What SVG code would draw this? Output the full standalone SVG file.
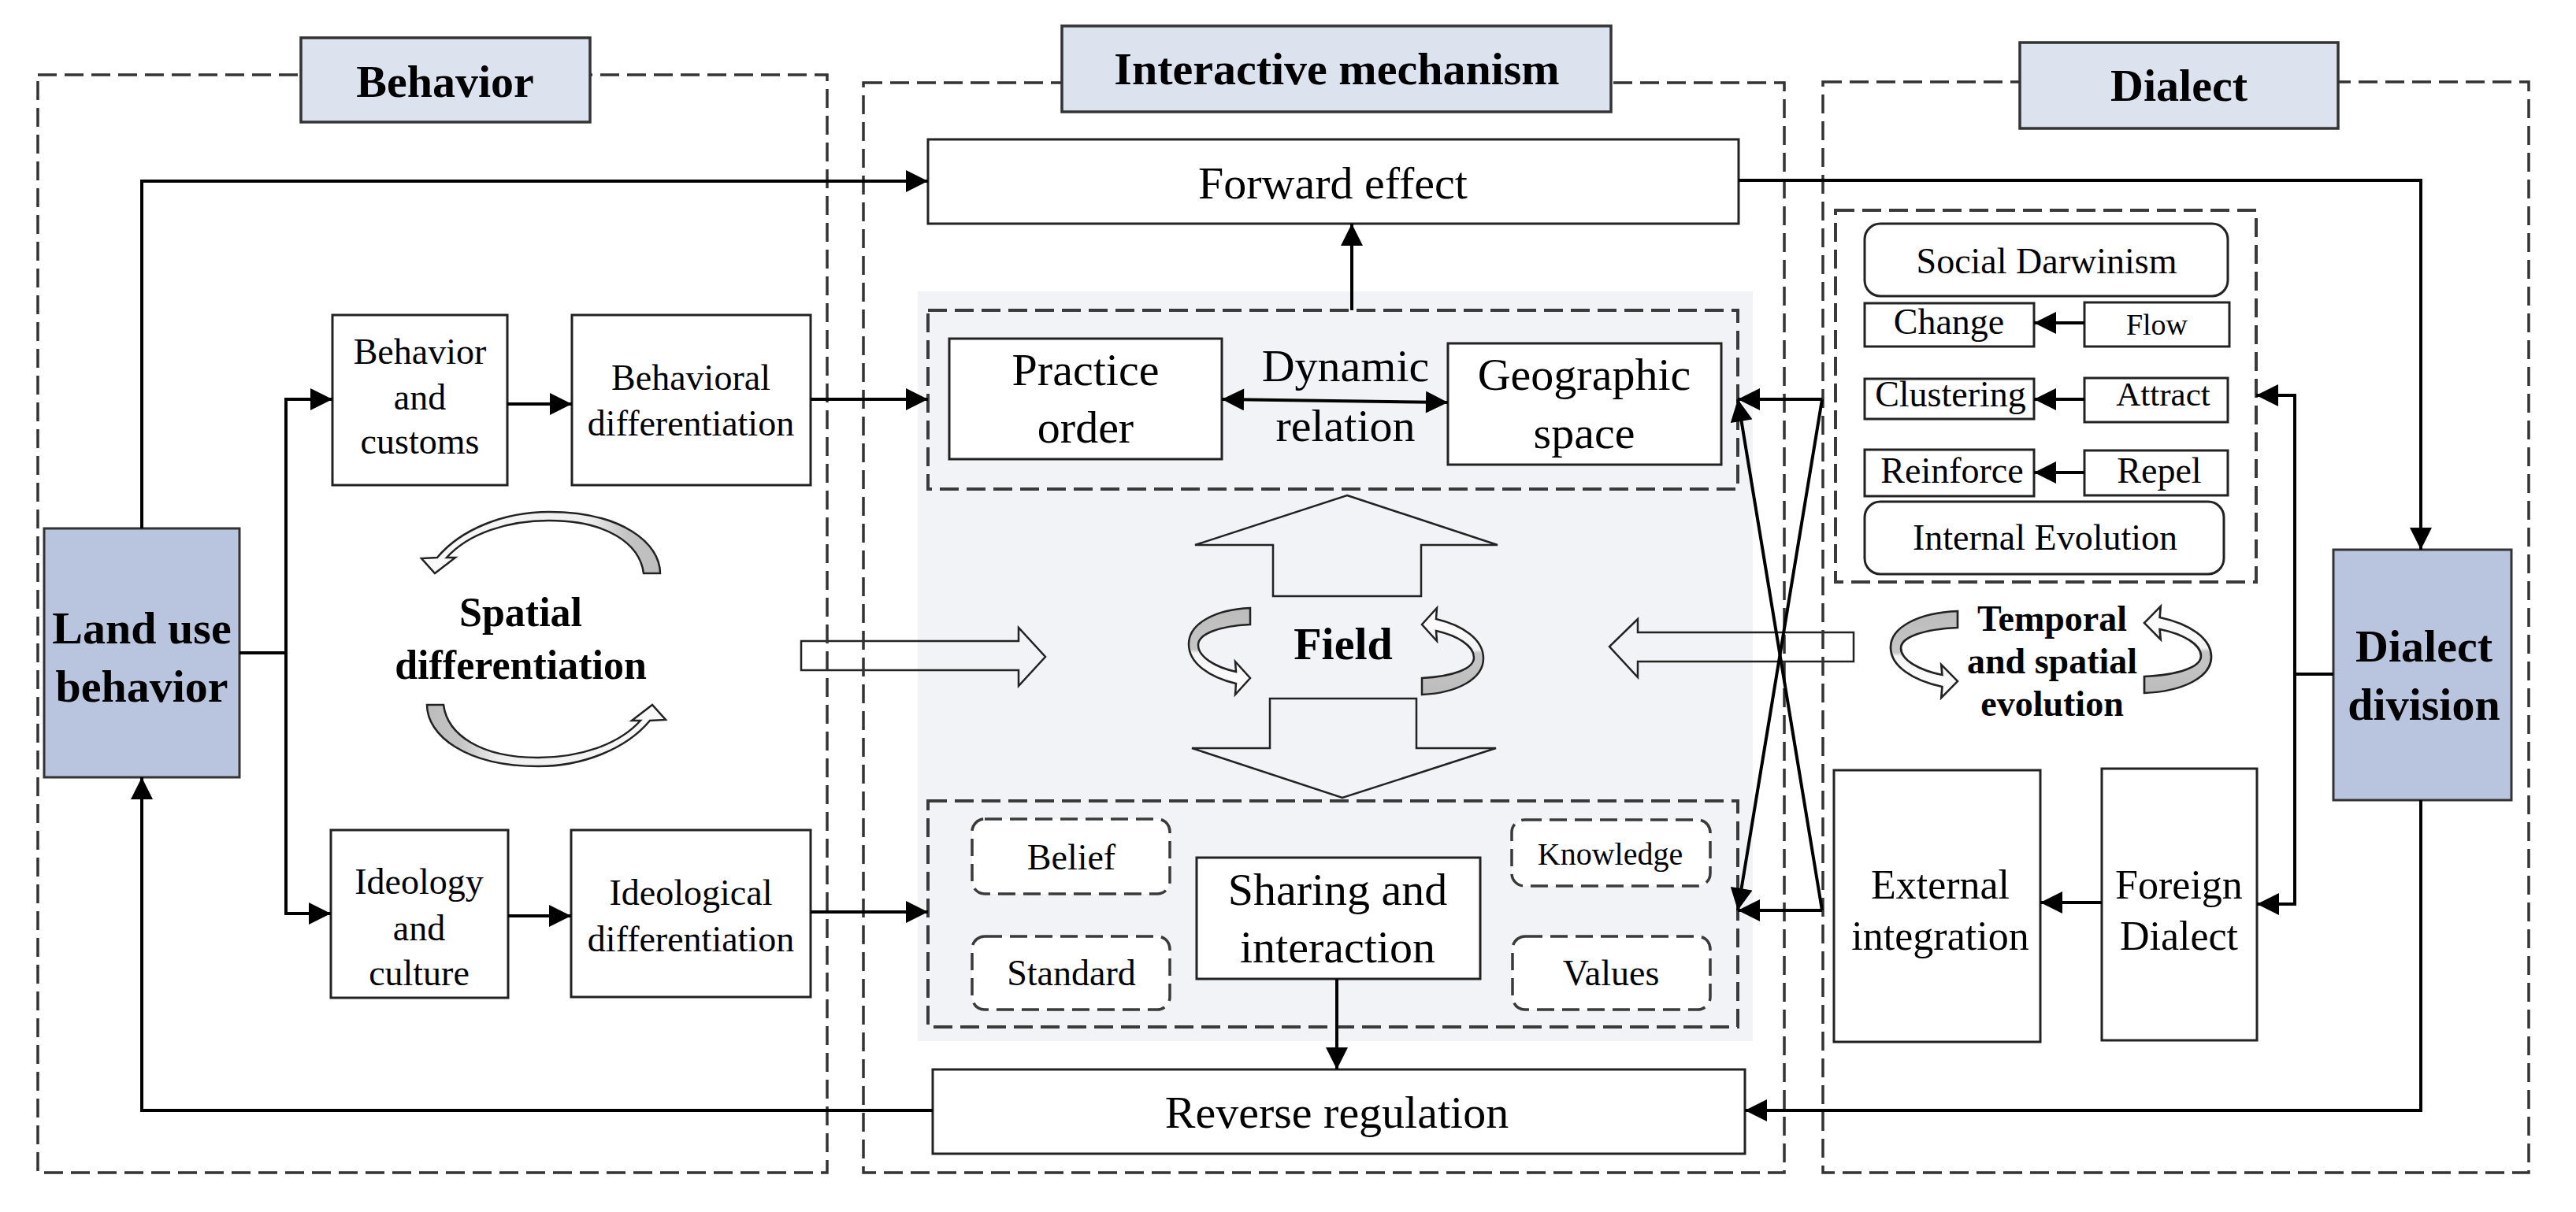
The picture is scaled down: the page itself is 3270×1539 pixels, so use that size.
<svg xmlns="http://www.w3.org/2000/svg" width="3270" height="1539" viewBox="0 0 3270 1539">
<defs>
<marker id="ah" viewBox="0 0 10 10" refX="10" refY="5" markerWidth="30" markerHeight="28" markerUnits="userSpaceOnUse" orient="auto-start-reverse"><path d="M0,0 L10,5 L0,10 Z" fill="#000"/></marker>
<linearGradient id="gv" x1="0" y1="0" x2="0" y2="1"><stop offset="0" stop-color="#bcbcbc"/><stop offset="0.48" stop-color="#c6c6c6"/><stop offset="0.52" stop-color="#f4f4f4"/><stop offset="1" stop-color="#ffffff"/></linearGradient>
<linearGradient id="gh" x1="0" y1="0" x2="1" y2="0"><stop offset="0" stop-color="#fafafa"/><stop offset="0.7" stop-color="#eeeeee"/><stop offset="0.86" stop-color="#c4c4c4"/><stop offset="1" stop-color="#bcbcbc"/></linearGradient>
<path id="carrow" fill="url(#gv)" stroke="#222" stroke-width="2.5" d="M0 0 C-45 2 -78 20 -78 46 C-78 70 -52 88 -18 96 L-19 110 L0 89 L-19 68 L-18 81 C-45 75 -66 62 -66 47 C-66 33 -40 23 0 21 Z"/>
<path id="sarrow" fill="url(#gh)" stroke="#222" stroke-width="2.5" d="M838 728 C838 690 790 650 697 650 C640 650 585 672 555 708 L535 709 L552 728 L578 708 L567 708 C595 677 645 661 697 661 C770 661 812 690 817 728 Z"/>
</defs>
<style>
.t{font-family:"Liberation Serif","Times New Roman",serif;text-anchor:middle;fill:#000}
.b{font-weight:bold}
.frame{fill:none;stroke:#333;stroke-width:3.5;stroke-dasharray:24 10}
.dbox{fill:none;stroke:#3a3a3a;stroke-width:4;stroke-dasharray:24 10}
.rdash{fill:#fff;stroke:#3a3a3a;stroke-width:3.5;stroke-dasharray:22 10}
.box{fill:#fff;stroke:#222;stroke-width:3}
.title{fill:#dde2ef;stroke:#333;stroke-width:3.5}
.key{fill:#b9c5de;stroke:#333;stroke-width:3}
.con{fill:none;stroke:#000;stroke-width:4}
.hollow{fill:none;stroke:#222;stroke-width:2.5}
</style>
<rect width="3270" height="1539" fill="#fff"/>

<rect x="1165" y="370" width="1060" height="952" fill="#f2f3f6"/>

<g id="hollow-arrows">
<path class="hollow" d="M1017 814 L1293 814 L1293 797 L1327 834 L1293 871 L1293 851 L1017 851 Z"/>
<path class="hollow" d="M2353 803 L2079 803 L2079 786 L2043 821 L2079 860 L2079 840 L2353 840 Z"/>
<path class="hollow" d="M1710 629 L1901 692 L1804 692 L1804 757 L1616 757 L1616 692 L1517 692 Z"/>
<path class="hollow" d="M1612 887 L1798 887 L1798 950 L1899 950 L1704 1013 L1513 950 L1612 950 Z"/>
</g>

<g id="frames">
<rect class="frame" x="48" y="95" width="1002" height="1394"/>
<rect class="frame" x="1096" y="105" width="1169" height="1384"/>
<rect class="frame" x="2314" y="104" width="896" height="1385"/>
</g>

<g id="title-behavior"><rect class="title" x="382" y="48" width="367" height="107"/><text class="t b" x="565" y="123" font-size="58">Behavior</text></g>
<g id="title-mechanism"><rect class="title" x="1348" y="33" width="697" height="109"/><text class="t b" x="1697" y="107" font-size="58">Interactive mechanism</text></g>
<g id="title-dialect"><rect class="title" x="2564" y="54" width="404" height="109"/><text class="t b" x="2766" y="128" font-size="58">Dialect</text></g>

<g id="land-use"><rect class="key" x="56" y="671" width="248" height="316"/><text class="t b" x="180" y="817" font-size="58">Land use</text><text class="t b" x="180" y="891" font-size="58">behavior</text></g>
<g id="behavior-customs"><rect class="box" x="422" y="400" width="222" height="216"/><text class="t" x="533" y="462" font-size="46">Behavior</text><text class="t" x="533" y="520" font-size="46">and</text><text class="t" x="533" y="576" font-size="46">customs</text></g>
<g id="behavioral-diff"><rect class="box" x="726" y="400" width="303" height="216"/><text class="t" x="877" y="495" font-size="46">Behavioral</text><text class="t" x="877" y="553" font-size="46">differentiation</text></g>
<g id="ideology-culture"><rect class="box" x="420" y="1054" width="225" height="213"/><text class="t" x="532" y="1135" font-size="46">Ideology</text><text class="t" x="532" y="1194" font-size="46">and</text><text class="t" x="532" y="1251" font-size="46">culture</text></g>
<g id="ideological-diff"><rect class="box" x="725" y="1054" width="304" height="212"/><text class="t" x="877" y="1149" font-size="46">Ideological</text><text class="t" x="877" y="1208" font-size="46">differentiation</text></g>
<g id="spatial-diff">
<use href="#sarrow"/>
<use href="#sarrow" transform="rotate(180 690 811.5)"/>
<text class="t b" x="661" y="795" font-size="52">Spatial</text><text class="t b" x="661" y="862" font-size="52">differentiation</text>
</g>

<g id="forward-effect"><rect class="box" x="1178" y="177" width="1029" height="107"/><text class="t" x="1692" y="252" font-size="58">Forward effect</text></g>
<g id="upper-group"><rect class="dbox" x="1178" y="394" width="1028" height="227"/></g>
<g id="practice-order"><rect class="box" x="1205" y="430" width="346" height="153"/><text class="t" x="1378" y="489" font-size="58">Practice</text><text class="t" x="1378" y="562" font-size="58">order</text></g>
<g id="dynamic-relation"><text class="t" x="1708" y="484" font-size="58">Dynamic</text><text class="t" x="1708" y="560" font-size="58">relation</text></g>
<g id="geographic-space"><rect class="box" x="1838" y="436" width="347" height="154"/><text class="t" x="2011" y="495" font-size="58">Geographic</text><text class="t" x="2011" y="569" font-size="58">space</text></g>
<g id="field">
<text class="t b" x="1705" y="837" font-size="58">Field</text>
<use href="#carrow" transform="translate(1587 772)"/>
<use href="#carrow" transform="rotate(180 1696 827) translate(1587 772)"/>
</g>
<g id="lower-group"><rect class="dbox" x="1178" y="1017" width="1028" height="287"/></g>
<g id="belief"><rect class="rdash" x="1234" y="1040" width="251" height="95" rx="16"/><text class="t" x="1360" y="1104" font-size="46">Belief</text></g>
<g id="standard"><rect class="rdash" x="1234" y="1189" width="251" height="93" rx="16"/><text class="t" x="1360" y="1251" font-size="46">Standard</text></g>
<g id="knowledge"><rect class="rdash" x="1919" y="1041" width="252" height="84" rx="16"/><text class="t" x="2044" y="1098" font-size="40">Knowledge</text></g>
<g id="values"><rect class="rdash" x="1920" y="1189" width="251" height="93" rx="16"/><text class="t" x="2045" y="1251" font-size="46">Values</text></g>
<g id="sharing"><rect class="box" x="1519" y="1089" width="360" height="154"/><text class="t" x="1698" y="1149" font-size="58">Sharing and</text><text class="t" x="1698" y="1222" font-size="58">interaction</text></g>
<g id="reverse-regulation"><rect class="box" x="1184" y="1358" width="1031" height="107"/><text class="t" x="1697" y="1432" font-size="58">Reverse regulation</text></g>

<g id="dialect-group"><rect class="dbox" x="2330" y="267" width="534" height="472"/></g>
<g id="social-darwinism"><rect class="box" x="2367" y="284" width="461" height="92" rx="20"/><text class="t" x="2598" y="347" font-size="46">Social Darwinism</text></g>
<g id="change"><rect class="box" x="2367" y="385" width="215" height="55"/><text class="t" x="2474" y="424" font-size="46">Change</text></g>
<g id="flow"><rect class="box" x="2646" y="384" width="184" height="56"/><text class="t" x="2738" y="425" font-size="38">Flow</text></g>
<g id="clustering"><rect class="box" x="2367" y="481" width="215" height="51"/><text class="t" x="2476" y="516" font-size="46">Clustering</text></g>
<g id="attract"><rect class="box" x="2646" y="480" width="182" height="56"/><text class="t" x="2746" y="515" font-size="43">Attract</text></g>
<g id="reinforce"><rect class="box" x="2367" y="571" width="215" height="59"/><text class="t" x="2478" y="613" font-size="46">Reinforce</text></g>
<g id="repel"><rect class="box" x="2646" y="572" width="182" height="57"/><text class="t" x="2741" y="613" font-size="46">Repel</text></g>
<g id="internal-evolution"><rect class="box" x="2367" y="637" width="456" height="92" rx="20"/><text class="t" x="2596" y="698" font-size="46">Internal Evolution</text></g>
<g id="temporal-spatial">
<use href="#carrow" transform="translate(2485 776) scale(1.09 1)"/>
<use href="#carrow" transform="rotate(180 2603.5 828) translate(2485 776) scale(1.09 1)"/>
<text class="t b" x="2605" y="801" font-size="46">Temporal</text><text class="t b" x="2605" y="855" font-size="46">and spatial</text><text class="t b" x="2605" y="909" font-size="46">evolution</text>
</g>
<g id="dialect-division"><rect class="key" x="2962" y="698" width="226" height="318"/><text class="t b" x="3077" y="840" font-size="58">Dialect</text><text class="t b" x="3077" y="914" font-size="58">division</text></g>
<g id="external-integration"><rect class="box" x="2328" y="978" width="262" height="345"/><text class="t" x="2463" y="1141" font-size="52">External</text><text class="t" x="2463" y="1206" font-size="52">integration</text></g>
<g id="foreign-dialect"><rect class="box" x="2668" y="976" width="197" height="345"/><text class="t" x="2766" y="1141" font-size="52">Foreign</text><text class="t" x="2766" y="1206" font-size="52">Dialect</text></g>

<g id="connectors">
<path class="con" d="M180 671 L180 230 L1178 230" marker-end="url(#ah)"/>
<path class="con" d="M304 829 L363 829"/>
<path class="con" d="M363 829 L363 507 L422 507" marker-end="url(#ah)"/>
<path class="con" d="M363 829 L363 1160 L420 1160" marker-end="url(#ah)"/>
<path class="con" d="M644 513 L726 513" marker-end="url(#ah)"/>
<path class="con" d="M645 1163 L725 1163" marker-end="url(#ah)"/>
<path class="con" d="M1029 507 L1178 507" marker-end="url(#ah)"/>
<path class="con" d="M1029 1158 L1178 1158" marker-end="url(#ah)"/>
<path class="con" d="M1716 394 L1716 284" marker-end="url(#ah)"/>
<path class="con" d="M1551 507 L1838 511" marker-start="url(#ah)" marker-end="url(#ah)"/>
<path class="con" d="M1697 1243 L1697 1358" marker-end="url(#ah)"/>
<path class="con" d="M2207 229 L3073 229 L3073 698" marker-end="url(#ah)"/>
<path class="con" d="M3073 1016 L3073 1410 L2215 1410" marker-end="url(#ah)"/>
<path class="con" d="M1184 1410 L180 1410 L180 987" marker-end="url(#ah)"/>
<path class="con" d="M2962 856 L2913 856"/>
<path class="con" d="M2913 856 L2913 502 L2864 502" marker-end="url(#ah)"/>
<path class="con" d="M2913 856 L2913 1148 L2865 1148" marker-end="url(#ah)"/>
<path class="con" d="M2668 1146 L2590 1146" marker-end="url(#ah)"/>
<path class="con" d="M2646 410 L2582 410" marker-end="url(#ah)"/>
<path class="con" d="M2646 507 L2582 507" marker-end="url(#ah)"/>
<path class="con" d="M2646 600 L2582 600" marker-end="url(#ah)"/>
<path class="con" d="M2313 507 L2206 507" marker-end="url(#ah)"/>
<path class="con" d="M2313 1156 L2206 1156" marker-end="url(#ah)"/>
<path class="con" d="M2313 507 L2206 1156" marker-end="url(#ah)"/>
<path class="con" d="M2313 1156 L2206 507" marker-end="url(#ah)"/>
</g>
</svg>
